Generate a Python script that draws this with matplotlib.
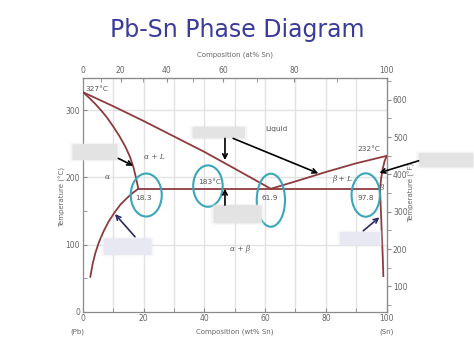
import numpy as np
import matplotlib
matplotlib.use("Agg")
import matplotlib.pyplot as plt
from matplotlib.patches import Ellipse, FancyBboxPatch

# ---- phase boundaries (wt% Sn, degC) ------------------------------------
liq_left_wt = [0, 10, 20, 30, 40, 50, 61.9]
liq_left_T = [327, 306, 284, 261, 238, 213, 183]
liq_right_wt = [61.9, 70, 80, 90, 100]
liq_right_T = [183, 194, 208, 221, 232]
sol_alpha_wt = [0, 2, 4, 6, 8, 10, 12, 14, 15.5, 16.7, 17.6, 18.3]
sol_alpha_T = [327, 319, 310, 300, 289, 276, 262, 246, 231, 215, 198, 183]
solv_alpha_wt = [18.3, 16.5, 14.5, 12.5, 10.5, 8.5, 6.8, 5.3, 4.2, 3.3, 2.5]
solv_alpha_T = [183, 177, 169, 160, 148, 134, 119, 103, 88, 72, 52]
sol_beta_wt = [100, 99.3, 98.7, 98.2, 97.8]
sol_beta_T = [232, 224, 213, 199, 183]
solv_beta_wt = [97.8, 98.1, 98.4, 98.7, 98.9]
solv_beta_T = [183, 150, 115, 82, 53]
eutectic_wt = [18.3, 97.8]
eutectic_T = [183, 183]

# region / point labels: (text, wt, T)
region_labels = [("α + L", 23.6, 231), ("α", 8.1, 200), ("β + L", 85.5, 197),
                 ("β", 98.4, 184), ("α + β", 51.8, 93)]
value_labels = [("327°C", 4.6, 331), ("232°C", 94.2, 242), ("Liquid", 63.8, 272),
                ("18.3", 19.9, 170), ("183°C", 41.9, 192.5),
                ("61.9", 61.6, 168.7), ("97.8", 93.1, 168.7)]

# highlighted ellipses: (wt, T, width, height)
ellipses = [(20.9, 173.7, 10.2, 64), (41.2, 187, 9.7, 61.6),
            (61.9, 166, 9.3, 79), (93.1, 173.7, 9.3, 64.6)]

# blanked label boxes: (wt0, wt1, T0, T1, tint)
boxes = [(-3.4, 11.5, 225.7, 249.6, "#e3e3e3"), (36.1, 53.4, 258.0, 275.3, "#e3e3e3"),
         (110.5, 128.5, 214.9, 236.6, "#e3e3e3"), (43.0, 58.9, 131.5, 158.8, "#e3e3e3"),
         (6.8, 22.7, 84.4, 109.2, "#e8e8f2"), (84.6, 97.8, 99.3, 119.0, "#e8e8f2")]

# arrows: (start wt, start T, end wt, end T, colour)
arrows = [(11.7, 228.3, 16.6, 217.3, "black"), (46.8, 258, 46.8, 225.7, "black"),
          (49.5, 258, 77.5, 206, "black"), (46.8, 158.8, 46.8, 183, "black"),
          (110.5, 224.7, 97.6, 206.8, "black"), (17.2, 111.6, 10.6, 145.4, "#2a2a66"),
          (92.3, 120.5, 97.6, 140.5, "#2a2a66")]

M_SN, M_PB = 118.71, 207.2


def wt_to_at(w):
    w = np.clip(np.asarray(w, dtype=float), 0, 100)
    a = w / M_SN
    b = (100 - w) / M_PB
    return 100 * a / (a + b)


def at_to_wt(x):
    x = np.clip(np.asarray(x, dtype=float), 0, 100)
    a = x * M_SN
    b = (100 - x) * M_PB
    return 100 * a / (a + b)


def c_to_f(c):
    return np.asarray(c) * 1.8 + 32


def f_to_c(f):
    return (np.asarray(f) - 32) / 1.8


fig = plt.figure(figsize=(4.74, 3.55), dpi=100)
ax = fig.add_axes([0.1745, 0.122, 0.6413, 0.658])
ax.set_xlim(0, 100)
ax.set_ylim(0, 347.8)

grey = "#8a8a8a"
txt = "#666666"
curve = "#8e3b3f"
teal = "#3aa6b9"

for s in ax.spines.values():
    s.set_color(grey)
    s.set_linewidth(0.9)

for x in range(10, 100, 10):
    ax.axvline(x, color="#e2e2e2", lw=1.0, zorder=0)
for y in (100, 200, 300):
    ax.axhline(y, color="#e2e2e2", lw=1.0, zorder=0)

ax.set_xticks(range(0, 101, 20))
ax.set_xticks(range(0, 101, 10), minor=True)
ax.set_yticks([0, 100, 200, 300])
ax.set_yticks([50, 150, 250], minor=True)
ax.tick_params(which="both", direction="in", colors=grey, labelcolor=txt,
               labelsize=5.5, length=3, pad=2)

sec_top = ax.secondary_xaxis("top", functions=(wt_to_at, at_to_wt))
sec_top.set_xticks(range(0, 101, 20))
sec_top.set_xticks(range(0, 101, 10), minor=True)
sec_top.tick_params(which="both", direction="in", colors=grey, labelcolor=txt,
                    labelsize=5.5, length=3, pad=2)
sec_top.spines["top"].set_color(grey)

sec_right = ax.secondary_yaxis("right", functions=(c_to_f, f_to_c))
sec_right.set_yticks(range(100, 601, 100))
sec_right.set_yticks(range(50, 651, 50), minor=True)
sec_right.tick_params(which="both", direction="out", colors=grey, labelcolor=txt,
                      labelsize=5.5, length=3, pad=1.5)
sec_right.spines["right"].set_color(grey)

# phase boundaries
for xs, ys in [(liq_left_wt, liq_left_T), (liq_right_wt, liq_right_T),
               (sol_alpha_wt, sol_alpha_T), (solv_alpha_wt, solv_alpha_T),
               (sol_beta_wt, sol_beta_T), (solv_beta_wt, solv_beta_T),
               (eutectic_wt, eutectic_T)]:
    ax.plot(xs, ys, color=curve, lw=1.3, zorder=3, solid_joinstyle="round")

for t, x, y in region_labels:
    ax.text(x, y, t, fontsize=5.3, style="italic", family="DejaVu Serif",
            color="#555555", ha="center", va="center", zorder=4)
for t, x, y in value_labels:
    ax.text(x, y, t, fontsize=5.3, color="#555555", ha="center", va="center", zorder=4)

for x, y, w, h in ellipses:
    ax.add_patch(Ellipse((x, y), w, h, fill=False, ec=teal, lw=1.5, zorder=5))

for x0, x1, y0, y1, c in boxes:
    for pad, alpha in [(0.8, 0.3), (0.0, 1.0)]:
        ax.add_patch(FancyBboxPatch((x0 - pad, y0 - pad * 2.5),
                                    x1 - x0 + 2 * pad, y1 - y0 + 5 * pad,
                                    boxstyle="round,pad=0,rounding_size=1.2",
                                    fc=c, ec="none", alpha=alpha,
                                    clip_on=False, zorder=6))

for x0, y0, x1, y1, c in arrows:
    ax.annotate("", xy=(x1, y1), xytext=(x0, y0), annotation_clip=False,
                arrowprops=dict(arrowstyle="->", color=c, lw=1.2,
                                mutation_scale=8, shrinkA=0, shrinkB=0),
                zorder=7)

# titles and axis texts
fig.text(0.5, 0.915, "Pb-Sn Phase Diagram", ha="center", va="center",
         fontsize=17, color="#3b3b9c")
fig.text(235 / 474, 1 - 55 / 355, "Composition (at% Sn)", ha="center", va="center",
         fontsize=5, color=txt)
fig.text(234.5 / 474, 1 - 332 / 355, "Composition (wt% Sn)", ha="center", va="center",
         fontsize=5, color=txt)
fig.text(77 / 474, 1 - 332 / 355, "(Pb)", ha="center", va="center", fontsize=5, color=txt)
fig.text(387 / 474, 1 - 332 / 355, "(Sn)", ha="center", va="center", fontsize=5, color=txt)
fig.text(62 / 474, 1 - 197 / 355, "Temperature (°C)", ha="center", va="center",
         rotation=90, fontsize=5, color=txt)
fig.text(411 / 474, 1 - 192 / 355, "Temperature (°F)", ha="center", va="center",
         rotation=90, fontsize=5, color=txt)

fig.savefig("out.png", dpi=100)
